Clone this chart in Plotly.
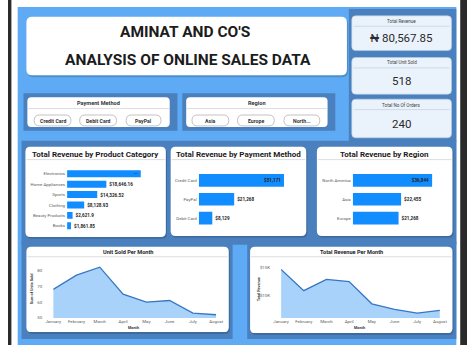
import plotly.graph_objects as go

# ---------------- data ----------------
categories = ["Electronics", "Home Appliances", "Sports", "Clothing", "Beauty Products", "Books"]
category_revenue = [34982.41, 18646.16, 14326.52, 8128.93, 2621.9, 1861.85]
category_labels = ["$34,982.41", "$18,646.16", "$14,326.52", "$8,128.93", "$2,621.9", "$1,861.85"]

payment_methods = ["Credit Card", "PayPal", "Debit Card"]
payment_revenue = [51171, 21268, 8129]
payment_labels = ["$51,171", "$21,268", "$8,129"]

regions = ["North America", "Asia", "Europe"]
region_revenue = [36844, 22455, 21268]
region_labels = ["$36,844", "$22,455", "$21,268"]

months = ["January", "February", "March", "April", "May", "June", "July", "August"]
units_sold = [68, 77, 82, 65, 60, 61, 53, 52]
monthly_revenue = [14550, 10800, 12800, 12400, 8450, 7450, 6800, 7300]

unit_ticks = [50, 60, 70, 80]
revenue_ticks = [10000, 15000]
revenue_tick_labels = ["$10K", "$15K"]

kpi_titles = ["Total Revenue", "Total Unit Sold", "Total No Of Orders"]
kpi_values = ["₦ 80,567.85", "518", "240"]

payment_slicer = ["Credit Card", "Debit Card", "PayPal"]
region_slicer = ["Asia", "Europe", "North..."]

title_lines = ["AMINAT AND CO'S", "ANALYSIS OF ONLINE SALES DATA"]

# ---------------- styles ----------------
W, H = 474, 348
FONT = "Roboto, Liberation Sans, Arial, sans-serif"
LIGHT = "#5eaaf5"
STEEL = "#4a80bd"
BAR = "#118DFF"
LINE = "#3677c2"
FILL = "#a8d2fa"
SEP = "#cfcfcf"
TXT = "#252423"


def dx(a, b):
    return [a / W, b / W]


def dy(top, bottom):
    return [1 - bottom / H, 1 - top / H]


shapes = []
annotations = []


def rect(x0, y0, x1, y1, fill):
    shapes.append(dict(type="rect", xref="x", yref="y", x0=x0, y0=y0, x1=x1, y1=y1,
                       fillcolor=fill, line=dict(width=0), layer="below"))


def rrect(x0, y0, x1, y1, r, fill, line=None, lw=0):
    p = (f"M{x0+r},{y0} L{x1-r},{y0} Q{x1},{y0} {x1},{y0+r} L{x1},{y1-r} "
         f"Q{x1},{y1} {x1-r},{y1} L{x0+r},{y1} Q{x0},{y1} {x0},{y1-r} "
         f"L{x0},{y0+r} Q{x0},{y0} {x0+r},{y0} Z")
    shapes.append(dict(type="path", xref="x", yref="y", path=p, fillcolor=fill,
                       line=dict(color=line if line else "rgba(0,0,0,0)", width=lw), layer="below"))


def hline(x0, x1, y, color=SEP, lw=0.7):
    shapes.append(dict(type="line", xref="x", yref="y", x0=x0, x1=x1, y0=y, y1=y,
                       line=dict(color=color, width=lw), layer="below"))


def text(x, y, s, size, color=TXT, bold=False, angle=0, xanchor="center"):
    annotations.append(dict(xref="x", yref="y", x=x, y=y, text=s, showarrow=False,
                            xanchor=xanchor, yanchor="middle", textangle=angle,
                            font=dict(family=FONT, size=size, color=color,
                                      weight="bold" if bold else "normal")))


def card(x0, y0, x1, y1, r=5, fill="white", line=None, lw=0, shadow=True):
    if shadow:
        rrect(x0 + 1, y0 + 1.5, x1 + 1.2, y1 + 1.8, r, "rgba(0,0,0,0.16)")
    rrect(x0, y0, x1, y1, r, fill, line, lw)


# ---------------- background ----------------
rect(0, 0, 3.5, H, "#2b2b2b")
rect(467, 0, W, H, "#2b2b2b")
rect(10, 7, 463, H, LIGHT)

# title card
card(19, 17, 350, 76, r=6)
text(183, 32.5, title_lines[0], 15.5, "#1c1c1c", bold=True)
text(186, 60.5, title_lines[1], 15.5, "#1c1c1c", bold=True)

# KPI column
rect(352, 9, 463, 143, STEEL)
kpi_boxes = [(16, 51), (58, 95), (100, 139)]
for (t, b), ttl, val in zip(kpi_boxes, kpi_titles, kpi_values):
    card(355, t, 458, b, r=4, fill="#eaf2fb", line="#b9cde3", lw=0.6, shadow=False)
    hline(357, 456, t + 10.5, "#c3d0de")
    text(406.5, t + 5.5, ttl, 4.6, "#444")
    text(406.5, t + 10.5 + (b - t - 10.5) / 2, val, 11.5, "#2a2a2a")

# slicers
slicers = [((16, 175), (20, 167), "Payment Method", payment_slicer, [(27, 65), (74, 112), (122, 158)]),
           ((180, 338), (184, 330), "Region", region_slicer, [(190, 228), (237, 275), (285, 322)])]
for (px0, px1), (cx0, cx1), ttl, items, pills in slicers:
    rect(px0, 94, px1, 132, STEEL)
    card(cx0, 98, cx1, 128, r=4, shadow=False)
    text((cx0 + cx1) / 2, 104, ttl, 5.6, "#333", bold=True)
    hline(cx0, cx1, 109.5)
    for (a, b), it in zip(pills, items):
        rrect(a, 116, b, 127, 5.5, "white", "#9a9a9a", 0.6)
        text((a + b) / 2, 121.6, it, 5.2, "#333", bold=True)

# row 3 / row 4 panels
rect(14, 142, 463, 247, STEEL)
rect(14, 243, 232, 342, STEEL)
rect(247, 243, 463, 342, STEEL)

bar_cards = [((18, 148, 163, 239), "Total Revenue by Product Category"),
             ((168, 148, 308, 238), "Total Revenue by Payment Method"),
             ((319, 148, 459, 238), "Total Revenue by Region")]
for (x0, y0, x1, y1), ttl in bar_cards:
    card(x0, y0, x1, y1, r=5)
    text((x0 + x1) / 2, 155.5, ttl, 8, "#1c1c1c", bold=True)
    hline(x0 + 1, x1 - 1, 161)

line_cards = [((19, 249, 228, 335), "Unit Sold Per Month"),
              ((250, 249, 459, 336), "Total Revenue Per Month")]
for (x0, y0, x1, y1), ttl in line_cards:
    card(x0, y0, x1, y1, r=5)
    text((x0 + x1) / 2, 254, ttl, 5.6, "#1c1c1c", bold=True)
    hline(x0 + 1, x1 - 1, 259)

# axis titles for line charts
text(24.5, 291, "Sum of Units Sold", 3.8, "#333", bold=True, angle=-90)
text(130, 330, "Month", 3.8, "#333", bold=True)
text(259, 292, "Total Revenue", 3.8, "#333", bold=True, angle=-90)
text(363, 330, "Month", 3.8, "#333", bold=True)

# ---------------- traces ----------------
fig = go.Figure()

bar_font = dict(family=FONT, size=4.6, color=TXT, weight="bold")


def add_bars(vals, cats, labels, ax):
    fig.add_trace(go.Bar(
        x=vals, y=cats, orientation="h", xaxis="x" + ax, yaxis="y" + ax,
        marker=dict(color=BAR, line=dict(width=0)),
        text=labels, textposition=["inside"] + ["outside"] * (len(vals) - 1),
        insidetextanchor="end", textangle=0, textfont=bar_font,
        cliponaxis=False, hoverinfo="skip", showlegend=False))


add_bars(category_revenue, categories, category_labels, "2")
add_bars(payment_revenue, payment_methods, payment_labels, "3")
add_bars(region_revenue, regions, region_labels, "4")

fig.add_trace(go.Scatter(x=months, y=units_sold, mode="lines", fill="tozeroy",
                         fillcolor=FILL, line=dict(color=LINE, width=1.3),
                         xaxis="x5", yaxis="y5", hoverinfo="skip", showlegend=False))
fig.add_trace(go.Scatter(x=months, y=monthly_revenue, mode="lines", fill="tozeroy",
                         fillcolor=FILL, line=dict(color=LINE, width=1.3),
                         xaxis="x6", yaxis="y6", hoverinfo="skip", showlegend=False))

# ---------------- layout ----------------
hidden = dict(visible=False, fixedrange=True)
tickf = dict(family=FONT, size=4.4, color="#605e5c")

layout = dict(
    width=W, height=H, margin=dict(l=0, r=0, t=0, b=0),
    paper_bgcolor="white", plot_bgcolor="rgba(0,0,0,0)",
    showlegend=False, bargap=0.33,
    xaxis=dict(domain=[0, 1], range=[0, W], **hidden),
    yaxis=dict(domain=[0, 1], range=[H, 0], **hidden),
    shapes=shapes, annotations=annotations,
)


def bar_axes(n, xdom, ydom, xmax):
    layout["xaxis" + n] = dict(domain=dx(*xdom), range=[0, xmax], anchor="y" + n, **hidden)
    layout["yaxis" + n] = dict(domain=dy(*ydom), anchor="x" + n, type="category",
                               autorange="reversed", showgrid=False, showline=False,
                               zeroline=False, ticks="", tickfont=dict(family=FONT, size=4.4, color="#605e5c"),
                               fixedrange=True, ticklabelstandoff=1)


bar_axes("2", (61, 148), (170, 233), 40000)
bar_axes("3", (197, 291.6), (172.5, 229.5), 55000)
bar_axes("4", (356, 445), (172.5, 229.5), 40000)


def line_axes(n, xdom, ydom, yrange, tickvals, ticktext=None):
    layout["xaxis" + n] = dict(domain=dx(*xdom), range=[0, 7], anchor="y" + n, type="category",
                               showgrid=False, showline=False, zeroline=False, ticks="",
                               tickfont=tickf, fixedrange=True, tickangle=0)
    y = dict(domain=dy(*ydom), range=yrange, anchor="x" + n, showgrid=False, showline=False,
             zeroline=False, ticks="", tickfont=tickf, tickvals=tickvals, fixedrange=True,
             ticklabelstandoff=10)
    if ticktext:
        y["ticktext"] = ticktext
    layout["yaxis" + n] = y


line_axes("5", (46.7, 215), (264.7, 320.7), [50, 85], unit_ticks)
line_axes("6", (282, 446), (265, 320.7), [5940, 15760], revenue_ticks, revenue_tick_labels)

fig.update_layout(**layout)
fig.write_html("out.html", config={"displayModeBar": False, "staticPlot": True})
